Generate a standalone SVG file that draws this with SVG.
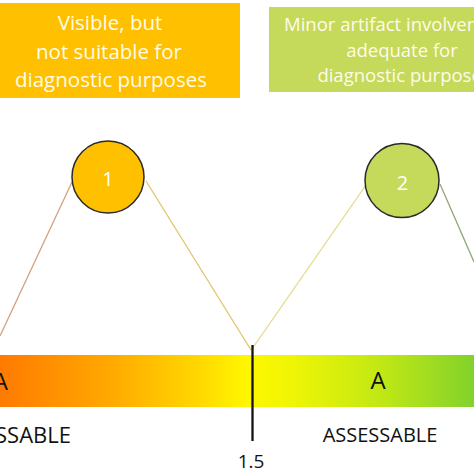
<svg xmlns="http://www.w3.org/2000/svg" width="474" height="474" viewBox="0 0 474 474">
  <style>
    .boxtxt { font-family: "Open Sans", "Noto Sans", sans-serif; fill: #FFFBEA; text-anchor: middle; }
    .num { font-family: "Open Sans", "Noto Sans", sans-serif; fill: #FFFFFF; font-size: 20px; text-anchor: middle; }
    .lbl { font-family: "Open Sans", "Noto Sans", sans-serif; fill: #111111; }
    .circ { stroke: #2a2a2a; stroke-width: 1.5; }
    .conn { fill: none; stroke-width: 1.3; }
  </style>
  <defs>
    <linearGradient id="barGrad" gradientUnits="userSpaceOnUse" x1="0" y1="0" x2="474" y2="0">
      <stop offset="0" stop-color="#FF7A00"/>
      <stop offset="0.22" stop-color="#FFA600"/>
      <stop offset="0.42" stop-color="#FFD800"/>
      <stop offset="0.52" stop-color="#FFF700"/>
      <stop offset="0.62" stop-color="#EEF505"/>
      <stop offset="0.8" stop-color="#C2E814"/>
      <stop offset="1" stop-color="#82D22C"/>
    </linearGradient>
  </defs>
  <rect width="474" height="474" fill="#FFFFFF"/>

  <g id="box-visible">
    <rect x="0" y="3" width="240" height="95" fill="#FFC000"/>
    <text class="boxtxt" font-size="20.5" x="110" y="30">Visible, but</text>
    <text class="boxtxt" font-size="20.5" x="109" y="59">not suitable for</text>
    <text class="boxtxt" font-size="20.5" x="111" y="87">diagnostic purposes</text>
  </g>

  <g id="box-minor">
    <rect x="269" y="7" width="205" height="85" fill="#C5D95A"/>
    <text class="boxtxt" font-size="18.5" x="284" y="31" style="text-anchor:start">Minor artifact involvement</text>
    <text class="boxtxt" font-size="18.5" x="402" y="56.5">adequate for</text>
    <text class="boxtxt" font-size="18.5" x="404" y="82">diagnostic purposes</text>
  </g>

  <g id="connectors">
    <line class="conn" x1="72" y1="182" x2="0" y2="336" stroke="#D2A07E"/>
    <line class="conn" x1="146" y1="181" x2="251" y2="350" stroke="#E2C46C"/>
    <line class="conn" x1="252" y1="349" x2="366" y2="185" stroke="#E6D98A"/>
    <line class="conn" x1="440" y1="184" x2="474" y2="262" stroke="#8FA878"/>
  </g>

  <g id="node-1">
    <circle class="circ" cx="108" cy="177" r="36" fill="#FFC000"/>
    <text class="num" x="108" y="185.5">1</text>
  </g>

  <g id="node-2">
    <circle class="circ" cx="402" cy="180.5" r="37" fill="#C5D95A"/>
    <text class="num" x="402.5" y="189.5">2</text>
  </g>

  <g id="scale-bar">
    <rect x="0" y="355" width="474" height="52" fill="url(#barGrad)"/>
    <text class="lbl" font-size="24" x="8" y="390" text-anchor="end">A</text>
    <text class="lbl" font-size="24" x="378" y="389" text-anchor="middle">A</text>
  </g>

  <g id="divider">
    <line x1="252.5" y1="345" x2="252.5" y2="441" stroke="#111111" stroke-width="2.3"/>
    <text class="lbl" font-size="19" x="251" y="468" text-anchor="middle">1.5</text>
  </g>

  <g id="labels">
    <text class="lbl" font-size="22" x="71" y="443" text-anchor="end">ASSESSABLE</text>
    <text class="lbl" font-size="20" x="380" y="442" text-anchor="middle">ASSESSABLE</text>
  </g>
</svg>
